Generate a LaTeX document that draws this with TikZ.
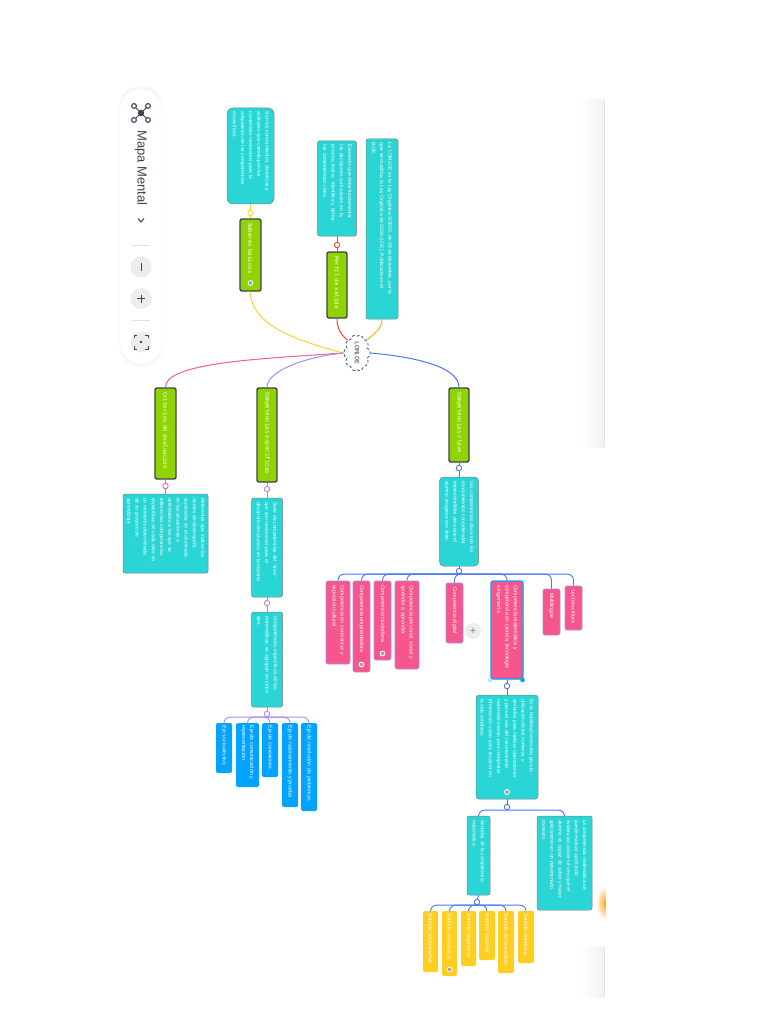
\documentclass[tikz,border=0pt]{standalone}
\usepackage{fontspec}
\setmainfont{Liberation Sans}
\setmonofont{Liberation Mono}
\usepackage{xcolor}
\usetikzlibrary{calc}
\usetikzlibrary{shapes.symbols}
\usetikzlibrary{shadows}
\definecolor{tealfill}{HTML}{2AD5D6}
\definecolor{limefill}{HTML}{8FD400}
\definecolor{pinkfill}{HTML}{F6568C}
\definecolor{bluefill}{HTML}{00A3FF}
\definecolor{yellowfill}{HTML}{FFCE21}
\definecolor{darkedge}{HTML}{3B4551}
\definecolor{branchblue}{HTML}{4A78F5}
\definecolor{branchpurple}{HTML}{A98BF5}
\definecolor{branchpink}{HTML}{F75C92}
\definecolor{branchyellow}{HTML}{FFD233}
\definecolor{branchorange}{HTML}{FFAA1E}
\definecolor{branchred}{HTML}{F2452E}
\tikzset{
    boxsize/.style 2 args = {minimum width=#1pt, minimum height=#2pt, text width=#1pt-8pt},
    leafsize/.style 2 args = {minimum width=#1pt, minimum height=#2pt, text width=#1pt-5pt, inner xsep=2.5pt},
    block/.style = {rectangle, rounded corners=2pt, rotate=-90, align=left,
        inner xsep=4pt, inner ysep=0pt, text=white},
    keyblock/.style = {block, fill=limefill, draw=darkedge, line width=1.4pt,
        font=\ttfamily\fontsize{5.8}{7}\selectfont},
    infoblock/.style = {block, fill=tealfill, draw=gray, line width=.5pt,
        font=\fontsize{5}{8.2}\selectfont},
    pinkblock/.style = {block, fill=pinkfill, draw=branchpurple, line width=.6pt,
        font=\fontsize{5.3}{8.2}\selectfont},
    ejeblock/.style = {block, fill=bluefill, font=\fontsize{5.3}{8.2}\selectfont},
    sentidoblock/.style = {block, fill=yellowfill, font=\fontsize{5.3}{8.2}\selectfont},
    root/.style = {cloud, cloud puffs=10, cloud puff arc=130, aspect=1.6, draw=darkedge,
        densely dashed, line width=.7pt, fill=white, inner sep=0pt, rotate=-90,
        minimum width=35pt, minimum height=21pt, text=darkedge,
        font=\ttfamily\fontsize{6.6}{7}\selectfont},
    dot/.style = {circle, draw=#1, fill=white, line width=.9pt, minimum size=5.4pt, inner sep=0pt},
    link/.style = {draw=#1, line width=1pt},
    tree/.style = {draw=#1, line width=.9pt, rounded corners=6pt},
    tick/.style = {circle, fill=gray!70, draw=white, line width=.8pt, minimum size=5pt, inner sep=0pt},
    button/.style = {circle, fill=black!7, minimum size=21pt, inner sep=0pt, text=darkedge,
        font=\fontsize{12}{12}\selectfont},
    toolbar/.style = {rectangle, rounded corners=20pt, fill=white, minimum width=42pt,
        minimum height=273pt, drop shadow={opacity=.06, shadow xshift=0pt, shadow yshift=0pt, shadow scale=1.03}}
}
\begin{document}
\begin{tikzpicture}[x=1pt, y=-1pt]
    \useasboundingbox (0,0) rectangle (768,1024);
    \fill [white] (0,0) rectangle (768,1024);
    \shade [left color=white, right color=black!5] (580,100) rectangle (604,447);
    \shade [left color=white, right color=black!5] (580,947) rectangle (604,997);
    \draw [black!12, line width=.5pt] (604,100) -- (604,447);
    \draw [black!12, line width=.5pt] (604,947) -- (604,997);
    \begin{scope}
        \clip (590,885) rectangle (606,920);
        \shade [inner color=branchorange, outer color=white] (605,903) ellipse (9 and 17);
    \end{scope}

    \node [toolbar] (bar) at (141,226.5) {};
    \node [rotate=-90, text=darkedge, font=\fontsize{13}{13}\selectfont] (barname) at (141,168) {Mapa Mental};
    \node [button] (barminus) at (141,267) {};
    \node [button] (barplus) at (141,298.5) {};
    \node [button] (barfit) at (141,342) {};
    \draw [darkedge, line width=1pt] (141,263) -- (141,271);
    \draw [darkedge, line width=1pt] (141,294.5) -- (141,302.5) (137,298.5) -- (145,298.5);
    \draw [darkedge, line width=1pt] (134,338) |- (137,335) (148,338) |- (145,335) (134,346) |- (137,349) (148,346) |- (145,349);
    \fill [darkedge] (141,342) circle (1.3);
    \draw [darkedge, line width=1pt] (138,218.5) -- (141,222) -- (144,218.5);
    \draw [black!12, line width=.5pt] (132,245) -- (150,245) (132,320) -- (150,320);
    \draw [darkedge, line width=1pt] (134,106) -- (148,120) (148,106) -- (134,120);
    \draw [darkedge, fill=white, line width=1.1pt] (134,106) circle (2.4) (148,106) circle (2.4) (134,120) circle (2.4) (148,120) circle (2.4);
    \fill [darkedge] (141,113) circle (3.2);

    \node [root] (lomloe) at (357,353) {LOMLOE};
    \node [above of=lomloe, node distance=124pt, xshift=25pt, infoblock, boxsize={180}{32}] (leyinfo) {La LOMLOE es la Ley Orgánica 3/2020, de 29 de diciembre, por la\\que se modifica la Ley Orgánica de 2006 (LOE). Publicada en el\\BOE.};

    \node [above of=lomloe, node distance=98pt, xshift=-106.5pt, keyblock, boxsize={72}{21}] (saberes) {Saberes básicos};
    \node [above of=saberes, node distance=42pt, dot=branchyellow] (saberesdot) {};
    \node [above of=saberes, node distance=99pt, infoblock, boxsize={96}{47}, rounded corners=6pt] (saberesinfo) {Son los conocimientos, destrezas y\\actitudes que constituyen los\\contenidos necesarios para la\\adquisición de las competencias\\específicas.};
    \node [below of=saberes, node distance=28pt, tick] (saberestick) {};

    \node [above of=lomloe, node distance=68pt, xshift=-20pt, keyblock, boxsize={66}{20}] (perfil) {Perfil de salida};
    \node [above of=perfil, node distance=40pt, dot=branchred] (perfildot) {};
    \node [above of=perfil, node distance=96.5pt, infoblock, boxsize={95}{39}] (perfilinfo) {Elemento que debe fundamentar\\las decisiones curriculares en la\\práctica lectiva. Identifica y define\\las competencias clave.};

    \node [below of=lomloe, node distance=80.5pt, xshift=-191.5pt, keyblock, boxsize={91}{21}] (criterios) {Criterios de evaluación};
    \node [below of=criterios, node distance=52.5pt, dot=branchpink] (criteriosdot) {};
    \node [below of=criterios, node distance=100pt, infoblock, boxsize={79}{85}] (criteriosinfo) {Referentes que indican los\\niveles de desempeño\\esperados en el alumnado\\en las situaciones o\\actividades a las que se\\refieren las competencias\\específicas de cada área en\\un momento determinado\\de su proceso de\\aprendizaje};

    \node [below of=lomloe, node distance=82pt, xshift=-90pt, keyblock, boxsize={94}{20}] (especificas) {Competencias específicas};
    \node [below of=especificas, node distance=54pt, dot=branchpurple] (especificasdot) {};
    \node [below of=especificas, node distance=112.5pt, infoblock, boxsize={99}{31}] (especificasinfo) {Serie de competencias del ``área''\\que son necesarias para el\\desarrollo del alumno en la materia};
    \node [below of=especificasinfo, node distance=55.5pt, dot=branchpurple] (ejesdot) {};
    \node [below of=especificasinfo, node distance=112pt, infoblock, boxsize={95}{31}] (ejesinfo) {Competencias específicas de las\\matemáticas, se agrupan en cinco\\ejes.};
    \node [below of=ejesinfo, node distance=54.5pt, dot=branchpurple] (ejestree) {};
    \node [below of=ejesinfo, node distance=88.5pt, xshift=-43pt, ejeblock, leafsize={50}{16}] (ejesocio) {Eje socioafectivo};
    \node [below of=ejesinfo, node distance=95.5pt, xshift=-19.5pt, ejeblock, leafsize={64}{23}] (ejecomunica) {Eje de comunicación y\\representación};
    \node [below of=ejesinfo, node distance=90.5pt, xshift=3pt, ejeblock, leafsize={54}{16}] (ejeconexion) {Eje de conexiones};
    \node [below of=ejesinfo, node distance=105.5pt, xshift=23pt, ejeblock, leafsize={84}{16}] (ejerazona) {Eje de razonamiento y prueba};
    \node [below of=ejesinfo, node distance=107.5pt, xshift=42pt, ejeblock, leafsize={88}{16}] (ejeresuelve) {Eje de resolución de problemas};

    \node [below of=lomloe, node distance=72pt, xshift=102pt, keyblock, boxsize={74}{20}] (clave) {Competencias clave};
    \node [below of=clave, node distance=43pt, dot=branchblue] (clavedot) {};
    \fill [limefill] (clavedot) ++(-2.8,2.2) circle (1);
    \node [below of=clave, node distance=96.5pt, infoblock, boxsize={89}{39}, rounded corners=4pt] (claveinfo) {Las competencias clave son los\\conocimientos considerados\\imprescindibles para que el\\alumno progrese con éxito.};
    \node [below of=claveinfo, node distance=49.5pt, dot=branchblue] (clavetree) {};
    \node [below of=claveinfo, node distance=101pt, xshift=-121pt, pinkblock, boxsize={83}{24}] (conciencia) {Competencia en conciencia y\\expresión cultural};
    \node [below of=claveinfo, node distance=105pt, xshift=-97.5pt, pinkblock, boxsize={91}{17}] (emprende) {Competencia emprendedora};
    \node [below of=emprende, node distance=38pt, tick] (emprendetick) {};
    \node [below of=claveinfo, node distance=99pt, xshift=-76.5pt, pinkblock, boxsize={79}{17}] (ciudadana) {Competencia ciudadana};
    \node [below of=ciudadana, node distance=33pt, tick] (ciudadanatick) {};
    \node [below of=claveinfo, node distance=103.5pt, xshift=-52pt, pinkblock, boxsize={88}{24}] (personal) {Competencia personal, social y\\aprender a aprender};
    \node [below of=claveinfo, node distance=91.5pt, xshift=-4.5pt, pinkblock, boxsize={60}{17}] (digital) {Competencia digital};
    \node [right of=digital, node distance=18.5pt, yshift=-18pt, button, minimum size=16pt, text=gray, font=\fontsize{11}{11}\selectfont] (digitalplus) {+};
    \node [below of=claveinfo, node distance=108.5pt, xshift=48pt, pinkblock, boxsize={98}{32}, draw=bluefill, line width=1.2pt] (stem) {Competencia matemática y\\competencia en ciencia, tecnología\\e ingeniería};
    \node [below of=claveinfo, node distance=90.5pt, xshift=92.5pt, pinkblock, boxsize={46}{17}] (multi) {Multilingüe};
    \node [below of=claveinfo, node distance=86.5pt, xshift=114.5pt, pinkblock, boxsize={44}{17}] (lecto) {Lectoescritura};

    \node [below of=stem, node distance=50pt, xshift=-17pt, dot=bluefill!40, minimum size=3.6pt] (stemhandle) {};
    \node [below of=stem, node distance=50pt, xshift=15.5pt, circle, fill=bluefill, minimum size=4.6pt, inner sep=0pt] (stemgrip) {};
    \node [below of=stem, node distance=56pt, dot=branchblue] (stemdot) {};
    \node [below of=stem, node distance=117pt, infoblock, boxsize={104}{62}, rounded corners=3pt] (steminfo) {Es la habilidad necesaria para la\\utilización de los números y\\símbolos para realizar operaciones\\y para el uso del razonamiento\\matemático tanto para interpretar\\información como para resolver en\\la vida cotidiana.};
    \node [below of=steminfo, node distance=45pt, tick] (steminfotick) {};
    \node [below of=steminfo, node distance=60pt, dot=branchblue] (steminfotree) {};
    \node [below of=steminfo, node distance=108.5pt, xshift=-28.5pt, infoblock, boxsize={79}{23}] (sentidos) {Sentidos de la competencia\\matemática};
    \node [below of=steminfo, node distance=116pt, xshift=57.5pt, infoblock, boxsize={94}{55}] (evalua) {La competencia matemática se\\puede evaluar aportando\\evidencias donde se vea que el\\alumno es capaz de saber y hacer\\aplicándolo en un determinado\\contexto.};
    \node [below of=sentidos, node distance=46.5pt, xshift=-1.5pt, dot=branchblue] (sentidostree) {};
    \node [below of=sentidos, node distance=86pt, xshift=-48pt, sentidoblock, leafsize={61}{15}] (socio) {Sentido socioafectivo};
    \node [below of=sentidos, node distance=88pt, xshift=-29pt, sentidoblock, leafsize={65}{15}] (estoca) {Sentido estocástico};
    \node [below of=estoca, node distance=26pt, tick] (estocatick) {};
    \node [below of=sentidos, node distance=83pt, xshift=-10pt, sentidoblock, leafsize={55}{15}] (algebra) {Sentido algebraico};
    \node [below of=sentidos, node distance=80pt, xshift=8.5pt, sentidoblock, leafsize={49}{16}] (espacial) {Sentido espacial};
    \node [below of=sentidos, node distance=86.5pt, xshift=27.5pt, sentidoblock, leafsize={62}{16}] (medida) {Sentido de la medida};
    \node [below of=sentidos, node distance=81.5pt, xshift=47.5pt, sentidoblock, leafsize={52}{16}] (numerico) {Sentido numérico};

    \draw [link=branchorange] (leyinfo.east) to[out=-90,in=40] (lomloe.north west);
    \draw [link=branchyellow] (saberes.east) to[out=-90,in=165,out looseness=.8] (lomloe.south);
    \draw [link=branchyellow] (saberes.west) -- (saberesdot) -- (saberesinfo.east);
    \draw [link=branchred] (perfil.east) to[out=-90,in=140] (lomloe.south west);
    \draw [link=branchred] (perfil.west) -- (perfildot) -- (perfilinfo.east);
    \draw [link=branchpink] (criterios.west) to[out=90,in=184,out looseness=.35,in looseness=1.2] (lomloe.south);
    \draw [link=branchpink] (criterios.east) -- (criteriosdot) -- (criteriosinfo.west);
    \draw [link=branchpurple] (especificas.west) to[out=90,in=186,out looseness=.5,in looseness=1.2] (lomloe.south);
    \draw [link=branchpurple] (especificas.east) -- (especificasdot) -- (especificasinfo.west);
    \draw [link=branchpurple] (especificasinfo.east) -- (ejesdot) -- (ejesinfo.west);
    \draw [link=branchpurple] (ejesinfo.east) -- (ejestree);
    \draw [tree=branchpurple] (ejestree.south) -| (ejesocio.west);
    \draw [tree=branchpurple] (ejestree.south) -| (ejecomunica.west);
    \draw [tree=branchpurple] (ejestree.south) -| (ejeconexion.west);
    \draw [tree=branchpurple] (ejestree.south) -| (ejerazona.west);
    \draw [tree=branchpurple] (ejestree.south) -| (ejeresuelve.west);
    \draw [link=branchblue] (lomloe.north) to[out=-5,in=90,in looseness=.6] (clave.west);
    \draw [link=branchblue] (clave.east) -- (clavedot) -- (claveinfo.west);
    \draw [link=branchblue] (claveinfo.east) -- (clavetree);
    \draw [tree=branchblue] (clavetree.south) -| (conciencia.west);
    \draw [tree=branchblue] (clavetree.south) -| (emprende.west);
    \draw [tree=branchblue] (clavetree.south) -| (ciudadana.west);
    \draw [tree=branchblue] (clavetree.south) -| (personal.west);
    \draw [tree=branchblue] (clavetree.south) -| (digital.west);
    \draw [tree=branchblue] (clavetree.south) -| (stem.west);
    \draw [tree=branchblue] (clavetree.south) -| (multi.west);
    \draw [tree=branchblue] (clavetree.south) -| (lecto.west);
    \draw [link=branchblue] (stem.east) -- (stemdot) -- (steminfo.west);
    \draw [link=branchblue] (steminfo.east) -- (steminfotree);
    \draw [tree=branchblue] (steminfotree.south) -| (sentidos.west);
    \draw [tree=branchblue] (steminfotree.south) -| (evalua.west);
    \draw [link=branchblue] (sentidos.east) -- (sentidostree);
    \draw [tree=branchblue] (sentidostree.south) -| (socio.west);
    \draw [tree=branchblue] (sentidostree.south) -| (estoca.west);
    \draw [tree=branchblue] (sentidostree.south) -| (algebra.west);
    \draw [tree=branchblue] (sentidostree.south) -| (espacial.west);
    \draw [tree=branchblue] (sentidostree.south) -| (medida.west);
    \draw [tree=branchblue] (sentidostree.south) -| (numerico.west);
\end{tikzpicture}
\end{document}
